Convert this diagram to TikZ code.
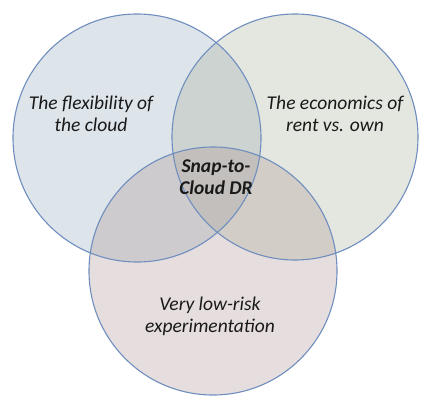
\documentclass[tikz,border=0pt]{standalone}
\usepackage{fontspec}
\setmainfont{Carlito}
\usetikzlibrary{positioning}

\definecolor{randC}{RGB}{111,142,190}
\definecolor{flexC}{RGB}{142,165,185}
\definecolor{ecoC}{RGB}{165,175,152}
\definecolor{riskC}{RGB}{172,145,145}

\tikzset{
  kreis/.style={fill opacity=0.3},
  rand/.style={draw=randC, line width=1.1pt},
  txt/.style={align=center, font=\fontsize{19.5}{22}\selectfont\itshape, text=black!90},
}

\begin{document}
\begin{tikzpicture}[x=1pt,y=-1pt]
\useasboundingbox (0,0) rectangle (433,409);

%Mittelpunkte
\coordinate (mL) at (137,138);
\coordinate (mR) at (295,137);
\coordinate (mU) at (213,271);

%Kreise fuellen
\fill[flexC,kreis] (mL) circle[radius=124pt]; %links
\fill[ecoC,kreis] (mR) circle[radius=123pt]; %rechts
\fill[riskC,kreis] (mU) circle[radius=124pt]; %unten

%Kreise Rand
\draw[rand] (mL) circle[radius=124pt]; %links
\draw[rand] (mR) circle[radius=123pt]; %rechts
\draw[rand] (mU) circle[radius=124pt]; %unten

%Texte
\node[txt] (flex) at (91,114) {The flexibility of\\the cloud};
\node[txt] (eco) at (335,114) {The economics of\\rent vs. own};
\node[txt] (risk) at (210,316) {Very low-risk\\experimentation};
\node[txt,font=\fontsize{19.5}{22}\selectfont\bfseries\itshape] (snap) at (216,177) {Snap-to-\\Cloud DR};
\end{tikzpicture}
\end{document}
